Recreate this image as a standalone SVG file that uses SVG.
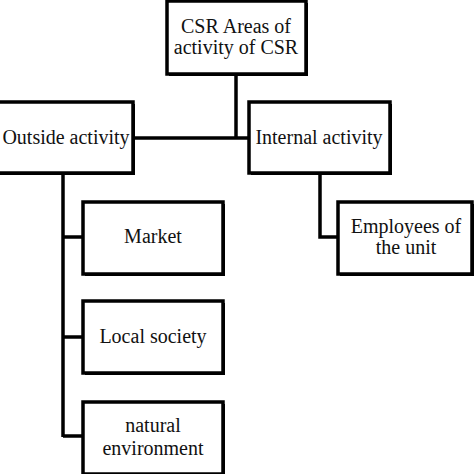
<svg xmlns="http://www.w3.org/2000/svg" width="474" height="474" viewBox="0 0 474 474">
<style>
.box{fill:#fff;stroke:#000;stroke-width:3.5}
.sh{fill:#000}
.t{font-size:20px;fill:#111;text-anchor:middle}
.c{fill:none;stroke:#000;stroke-width:3.5}
</style>
<rect width="474" height="474" fill="#fff"/>
<g id="connectors">
<path class="c" d="M236 74V137"/>
<path class="c" d="M133 138H249"/>
<path class="c" d="M63 173V437"/>
<path class="c" d="M63 237H83M63 337H83M63 436H83"/>
<path class="c" d="M320 173V237H338"/>
</g>
<g font-family="'Liberation Serif', 'DejaVu Serif', serif">
<g id="root">
<rect class="sh" x="169" y="3" width="139" height="73"/>
<rect class="box" x="167" y="1" width="139" height="73"/>
<text class="t" x="236" y="33">CSR Areas of</text>
<text class="t" x="236" y="54">activity of CSR</text>
</g>
<g id="outside">
<rect class="sh" x="-1" y="104" width="136" height="71"/>
<rect class="box" x="-3" y="102" width="136" height="71"/>
<text class="t" x="66" y="144">Outside activity</text>
</g>
<g id="internal">
<rect class="sh" x="251" y="104" width="141" height="71"/>
<rect class="box" x="249" y="102" width="141" height="71"/>
<text class="t" x="319" y="144">Internal activity</text>
</g>
<g id="market">
<rect class="sh" x="85" y="204" width="140" height="72"/>
<rect class="box" x="83" y="202" width="140" height="72"/>
<text class="t" x="153" y="243">Market</text>
</g>
<g id="employees">
<rect class="sh" x="340" y="204" width="134" height="72"/>
<rect class="box" x="338" y="202" width="134" height="72"/>
<text class="t" x="406" y="233">Employees of</text>
<text class="t" x="406" y="254">the unit</text>
</g>
<g id="local">
<rect class="sh" x="85" y="303" width="140" height="72"/>
<rect class="box" x="83" y="301" width="140" height="72"/>
<text class="t" x="153" y="343">Local society</text>
</g>
<g id="natural">
<rect class="sh" x="85" y="404" width="140" height="72"/>
<rect class="box" x="83" y="402" width="140" height="72"/>
<text class="t" x="153" y="432">natural</text>
<text class="t" x="153" y="455">environment</text>
</g>
</g>
</svg>
